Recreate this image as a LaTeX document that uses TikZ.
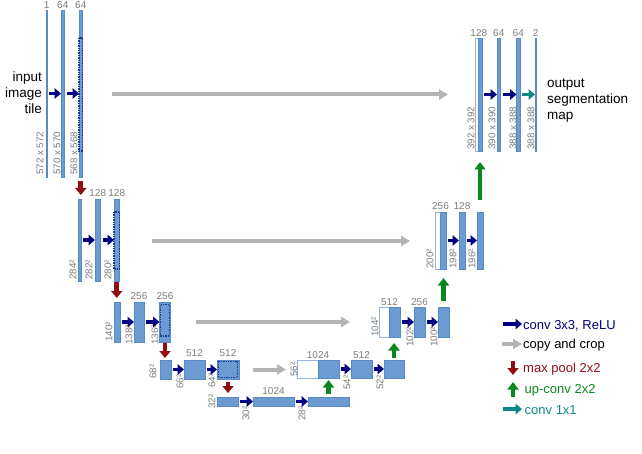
\documentclass[tikz,border=0pt]{standalone}
\usepackage{fontspec}
\setmainfont{Liberation Sans}
\usetikzlibrary{arrows.meta,calc}
\definecolor{barfill}{RGB}{108,155,210}
\definecolor{baredge}{RGB}{88,138,200}
\definecolor{whiteedge}{RGB}{150,182,222}
\definecolor{dotcol}{RGB}{20,60,145}
\definecolor{labgrey}{RGB}{125,125,125}
\definecolor{navyc}{RGB}{0,0,128}
\definecolor{greyc}{RGB}{180,180,180}
\definecolor{redc}{RGB}{145,15,20}
\definecolor{greenc}{RGB}{10,135,30}
\definecolor{tealc}{RGB}{15,135,135}
\begin{document}
\begin{tikzpicture}[x=1pt,y=-1pt,
  ubar/.style={draw=baredge, fill=barfill, line width=0.5pt, inner sep=0pt, outer sep=0pt, anchor=north west},
  wbar/.style={draw=whiteedge, fill=white, line width=0.5pt, inner sep=0pt, outer sep=0pt, anchor=north west},
  croprect/.style={draw=dotcol, dash pattern=on 1.4pt off 1pt, line width=1.3pt},
  toplab/.style={font=\fontsize{10}{11}\selectfont, text=labgrey, anchor=base, inner sep=0pt},
  dimlab/.style={font=\fontsize{9.8}{10}\selectfont, text=labgrey, rotate=90, anchor=west, inner sep=0pt},
  convarrow/.style={draw=navyc, line width=3.8pt, -{Triangle[length=6.5pt,width=10.5pt]}, shorten <=2pt},
  onearrow/.style={draw=tealc, line width=3.8pt, -{Triangle[length=6.5pt,width=10.5pt]}, shorten <=2pt},
  copyarrow/.style={draw=greyc, line width=4pt, -{Triangle[length=9pt,width=10pt]}},
  poolarrow/.style={draw=redc, line width=4.8pt, -{Triangle[length=7pt,width=11pt]}},
  uparrow/.style={draw=greenc, line width=4.4pt, -{Triangle[length=7.5pt,width=11pt]}},
  bigtext/.style={font=\fontsize{13.5}{16}\selectfont, inner sep=0pt},
  legtext/.style={font=\fontsize{13}{15}\selectfont, inner sep=0pt, anchor=base west}
]
\fill[white] (0,0) rectangle (642,454);
\useasboundingbox (0,0) rectangle (642,454);

% ---------- level 1 (left) ----------
\node[ubar, minimum width=1.3pt, minimum height=167pt] (a1) at (46,10) {};
\node[ubar, minimum width=3.6pt, minimum height=167pt] (a2) at (61,10) {};
\node[ubar, minimum width=3.6pt, minimum height=167pt] (a3) at (79,10) {};
\draw[croprect] (a3.west |- 0,38) rectangle (a3.east |- 0,151);
\node[toplab] at ([yshift=1.5pt]a1.north) {1};
\node[toplab] at ([yshift=1.5pt]a2.north) {64};
\node[toplab] at ([yshift=1.5pt]a3.north) {64};
\node[dimlab] at (40,175) {572 x 572};
\node[dimlab] at (57,175) {570 x 570};
\node[dimlab] at (74,175) {568 x 568};
\draw[convarrow] (a1) -- (a2);
\draw[convarrow] (a2) -- (a3);
\node[bigtext, align=right, anchor=east] (intext) at (42,93) {input\\image\\tile};

% ---------- level 2 (left) ----------
\node[ubar, minimum width=3.2pt, minimum height=82pt] (b1) at (78,199) {};
\node[ubar, minimum width=5.5pt, minimum height=82pt] (b2) at (95,199) {};
\node[ubar, minimum width=5.5pt, minimum height=82pt] (b3) at (114,199) {};
\draw[croprect] (b3.west |- 0,212) rectangle (b3.east |- 0,269);
\node[toplab] at ([yshift=2pt]b2.north) {128};
\node[toplab] at ([yshift=2pt]b3.north) {128};
\node[dimlab] at (73,280) {284²};
\node[dimlab] at (89,280) {282²};
\node[dimlab] at (108,280) {280²};
\draw[convarrow] (b1) -- (b2);
\draw[convarrow] (b2) -- (b3);

% ---------- level 3 (left) ----------
\node[ubar, minimum width=5.5pt, minimum height=40pt] (c1) at (114.5,302) {};
\node[ubar, minimum width=10pt, minimum height=40pt] (c2) at (134,302) {};
\node[ubar, minimum width=11pt, minimum height=40pt] (c3) at (159.5,302) {};
\draw[croprect] ([xshift=1.2pt]c3.west |- 0,304.5) rectangle ([xshift=-1.2pt]c3.east |- 0,336);
\node[toplab] at ([yshift=3pt]c2.north) {256};
\node[toplab] at ([yshift=3pt]c3.north) {256};
\node[dimlab] at (109,342) {140²};
\node[dimlab] at (129,345) {138²};
\node[dimlab] at (155,345) {136²};
\draw[convarrow] (c1) -- (c2);
\draw[convarrow] (c2) -- (c3);

% ---------- level 4 (left) ----------
\node[ubar, minimum width=11pt, minimum height=19pt] (d1) at (160,360) {};
\node[ubar, minimum width=21pt, minimum height=19pt] (d2) at (184,360) {};
\node[ubar, minimum width=22pt, minimum height=19pt] (d3) at (217,360) {};
\draw[croprect] ([xshift=1.2pt]d3.west |- 0,361.5) rectangle ([xshift=-1.2pt]d3.east |- 0,377.5);
\node[toplab] at ([yshift=3.5pt]d2.north) {512};
\node[toplab] at ([yshift=3.5pt]d3.north) {512};
\node[dimlab] at (153,379) {68²};
\node[dimlab] at (180,389) {66²};
\node[dimlab] at (212,388) {64²};
\draw[convarrow] (d1) -- (d2);
\draw[convarrow] (d2) -- (d3);

% ---------- level 5 (bottom) ----------
\node[ubar, minimum width=21pt, minimum height=9pt] (e1) at (217,397) {};
\node[ubar, minimum width=41pt, minimum height=9pt] (e2) at (253,397) {};
\node[ubar, minimum width=41pt, minimum height=9pt] (e3) at (308,397) {};
\node[toplab] at ([yshift=3pt]e2.north) {1024};
\node[dimlab] at (212,409) {32²};
\node[dimlab] at (246,421) {30²};
\node[dimlab] at (302,421) {28²};
\draw[convarrow] (e1) -- (e2);
\draw[convarrow] (e2) -- (e3);

% ---------- level 4 (right) ----------
\node[wbar, minimum width=21pt, minimum height=18pt] (f0) at (297,360) {};
\node[ubar, minimum width=21pt, minimum height=18pt] (f1) at (318,360) {};
\node[ubar, minimum width=21pt, minimum height=18pt] (f2) at (351,360) {};
\node[ubar, minimum width=20pt, minimum height=18pt] (f3) at (384,360) {};
\node[toplab] at ([yshift=2pt]$(f0.north west)!0.5!(f1.north east)$) {1024};
\node[toplab] at ([yshift=2pt]f2.north) {512};
\node[dimlab] at (294,377) {56²};
\node[dimlab] at (347,390) {54²};
\node[dimlab] at (380,390) {52²};
\draw[convarrow] (f1) -- (f2);
\draw[convarrow] (f2) -- (f3);

% ---------- level 3 (right) ----------
\node[wbar, minimum width=10pt, minimum height=30pt] (g0) at (379,307) {};
\node[ubar, minimum width=11pt, minimum height=30pt] (g1) at (389,307) {};
\node[ubar, minimum width=11pt, minimum height=30pt] (g2) at (414,307) {};
\node[ubar, minimum width=11pt, minimum height=30pt] (g3) at (438,307) {};
\node[toplab] at ([yshift=2pt]$(g0.north west)!0.5!(g1.north east)$) {512};
\node[toplab] at ([yshift=2pt]g2.north) {256};
\node[dimlab] at (375,337) {104²};
\node[dimlab] at (410,347) {102²};
\node[dimlab] at (434,347) {100²};
\draw[convarrow] (g1) -- (g2);
\draw[convarrow] (g2) -- (g3);

% ---------- level 2 (right) ----------
\node[wbar, minimum width=5pt, minimum height=57pt] (h0) at (435,212) {};
\node[ubar, minimum width=6pt, minimum height=57pt] (h1) at (440,212) {};
\node[ubar, minimum width=6pt, minimum height=57pt] (h2) at (459,212) {};
\node[ubar, minimum width=6pt, minimum height=57pt] (h3) at (477,212) {};
\node[toplab] at ([yshift=2pt]$(h0.north west)!0.5!(h1.north east)$) {256};
\node[toplab] at ([yshift=2pt]h2.north) {128};
\node[dimlab] at (430,269) {200²};
\node[dimlab] at (453,269) {198²};
\node[dimlab] at (472,269) {196²};
\draw[convarrow] (h1) -- (h2);
\draw[convarrow] (h2) -- (h3);

% ---------- level 1 (right) ----------
\node[wbar, minimum width=3pt, minimum height=113pt] (i0) at (475.5,38) {};
\node[ubar, minimum width=3.6pt, minimum height=113pt] (i1) at (478.5,38) {};
\node[ubar, minimum width=3.6pt, minimum height=113pt] (i2) at (497,38) {};
\node[ubar, minimum width=3.6pt, minimum height=113pt] (i3) at (516.5,38) {};
\node[ubar, minimum width=1.3pt, minimum height=113pt] (i4) at (535,38) {};
\node[toplab] at ([yshift=1.5pt]$(i0.north west)!0.5!(i1.north east)$) {128};
\node[toplab] at ([yshift=1.5pt]i2.north) {64};
\node[toplab] at ([yshift=1.5pt]i3.north) {64};
\node[toplab] at ([yshift=1.5pt]i4.north) {2};
\node[dimlab] at (471,150) {392 x 392};
\node[dimlab] at (492,150) {390 x 390};
\node[dimlab] at (513,150) {388 x 388};
\node[dimlab] at (531,150) {388 x 388};
\draw[convarrow] (i1) -- (i2);
\draw[convarrow] (i2) -- (i3);
\draw[onearrow] (i3) -- (i4);
\node[bigtext, align=left, anchor=west] (outtext) at (547,101) {output\\segmentation\\map};

% ---------- copy and crop ----------
\draw[copyarrow, shorten <=29pt, shorten >=27.5pt] (a3.east |- 0,94.5) -- (i0.west |- 0,94.5);
\draw[copyarrow, shorten <=32.5pt, shorten >=25pt] (b3.east |- 0,241) -- (h0.west |- 0,241);
\draw[copyarrow, shorten <=25.5pt, shorten >=29pt] (c3.east |- 0,322) -- (g0.west |- 0,322);
\draw[copyarrow, shorten <=14pt, shorten >=11pt] (d3.east |- 0,369.5) -- (f0.west |- 0,369.5);

% ---------- max pool ----------
\draw[poolarrow, shorten <=4pt, shorten >=4pt] (a3.south) -- (a3.south |- b1.north);
\draw[poolarrow, shorten <=1pt, shorten >=4pt] (b3.south) -- (b3.south |- c1.north);
\draw[poolarrow, shorten <=1pt, shorten >=2pt] (c3.south) -- (c3.south |- d1.north);
\draw[poolarrow, shorten <=3pt, shorten >=4pt] (d3.south) -- (d3.south |- e1.north);

% ---------- up-conv ----------
\draw[uparrow, shorten <=3pt, shorten >=2pt] (e3.north) -- (e3.north |- f1.south);
\draw[uparrow, shorten <=2pt, shorten >=6pt] (f3.north) -- (f3.north |- g1.south);
\draw[uparrow, shorten <=6pt, shorten >=9pt] (g3.north) -- (g3.north |- h1.south);
\draw[uparrow, shorten <=12pt, shorten >=11pt] (h3.north) -- (h3.north |- i1.south);

% ---------- legend ----------
\coordinate (l1s) at (503,324); \coordinate (l1e) at (522,324);
\draw[convarrow, shorten <=0pt] (l1s) -- (l1e);
\node[legtext, text=navyc] (t1) at (523,329) {conv 3x3, ReLU};
\coordinate (l2s) at (502,344); \coordinate (l2e) at (522,344);
\draw[copyarrow] (l2s) -- (l2e);
\node[legtext, text=black] (t2) at (523,348) {copy and crop};
\coordinate (l3s) at (513,361); \coordinate (l3e) at (513,375);
\draw[poolarrow] (l3s) -- (l3e);
\node[legtext, text=redc] (t3) at (523,372) {max pool 2x2};
\coordinate (l4s) at (513,397); \coordinate (l4e) at (513,382);
\draw[uparrow] (l4s) -- (l4e);
\node[legtext, text=greenc] (t4) at (524.5,393) {up-conv 2x2};
\coordinate (l5s) at (503,409); \coordinate (l5e) at (522,409);
\draw[onearrow, shorten <=0pt] (l5s) -- (l5e);
\node[legtext, text=tealc] (t5) at (524.5,414) {conv 1x1};
\end{tikzpicture}
\end{document}
